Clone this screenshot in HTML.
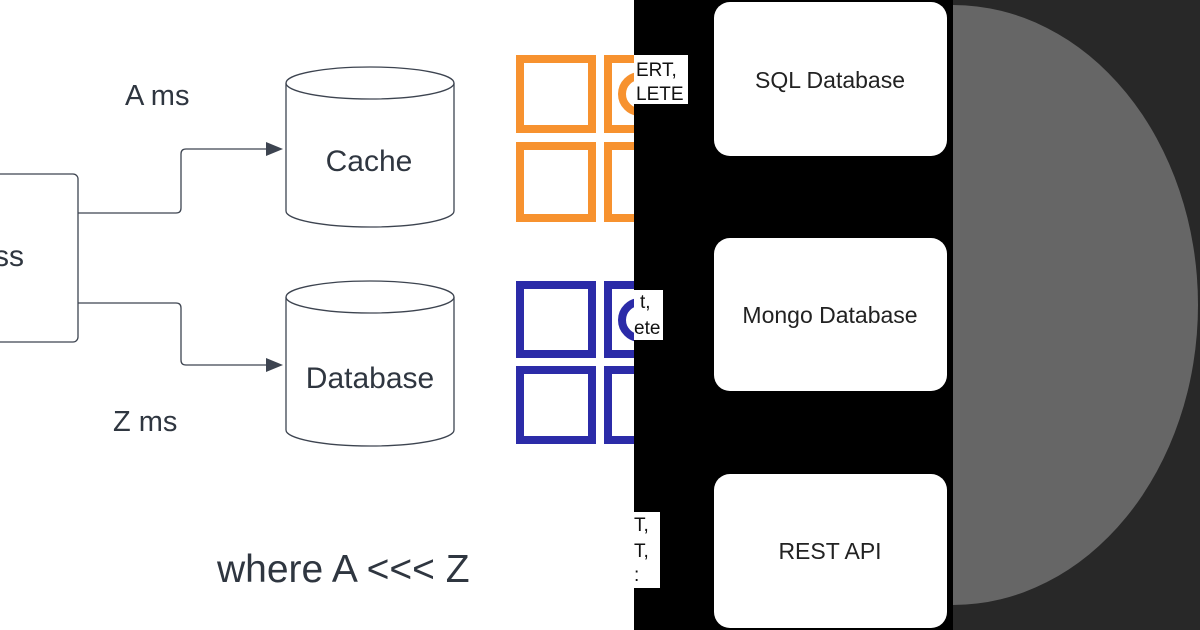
<!DOCTYPE html>
<html><head><meta charset="utf-8"><style>
html,body{margin:0;padding:0;width:1200px;height:630px;overflow:hidden;background:#fff}
svg{display:block}
</style></head><body>
<svg width="1200" height="630" viewBox="0 0 1200 630" xmlns="http://www.w3.org/2000/svg">
<defs><clipPath id="rp"><rect x="953" y="0" width="247" height="630"/></clipPath></defs>
<rect x="0" y="0" width="634" height="630" fill="#fff"/>
<rect x="-20" y="174" width="98" height="168" rx="5" fill="none" stroke="#3d4450" stroke-width="1.3"/>
<text x="-6" y="266" font-family="Liberation Sans, sans-serif" font-size="30" fill="#2f3640">ss</text>
<path d="M78 213 H176 Q181 213 181 208 V154 Q181 149 186 149 H266" fill="none" stroke="#3d4450" stroke-width="1.3"/>
<polygon points="266,142 283,149 266,156" fill="#3d4450"/>
<path d="M78 303 H176 Q181 303 181 308 V360 Q181 365 186 365 H266" fill="none" stroke="#3d4450" stroke-width="1.3"/>
<polygon points="266,358 283,365 266,372" fill="#3d4450"/>
<g fill="#fff" stroke="#3d4450" stroke-width="1.3">
<path d="M286 83 V211 A84 16 0 0 0 454 211 V83"/>
<ellipse cx="370" cy="83" rx="84" ry="16"/>
<path d="M286 297 V430 A84 16 0 0 0 454 430 V297"/>
<ellipse cx="370" cy="297" rx="84" ry="16"/>
</g>
<g font-family="Liberation Sans, sans-serif" fill="#2f3640">
<text x="369" y="171" font-size="30" text-anchor="middle">Cache</text>
<text x="370" y="388" font-size="30" text-anchor="middle">Database</text>
<text x="125" y="105" font-size="29">A ms</text>
<text x="113" y="431" font-size="29">Z ms</text>
<text x="217" y="582" font-size="39">where A &lt;&lt;&lt; Z</text>
</g>
<g fill="none" stroke="#f7922f" stroke-width="8">
<rect x="520" y="59" width="72" height="70"/>
<rect x="520" y="146" width="72" height="72"/>
<rect x="608" y="59" width="72" height="70"/>
<rect x="608" y="146" width="72" height="72"/>
<circle cx="640" cy="94" r="18"/>
</g>
<g fill="none" stroke="#2b2ba8" stroke-width="8">
<rect x="520" y="285" width="72" height="69"/>
<rect x="520" y="370" width="72" height="70"/>
<rect x="608" y="285" width="72" height="69"/>
<rect x="608" y="370" width="72" height="70"/>
<circle cx="640" cy="320" r="18"/>
</g>
<rect x="634" y="0" width="319" height="630" fill="#000"/>
<rect x="634" y="55" width="54" height="49" fill="#fff"/>
<rect x="634" y="290" width="29" height="50" fill="#fff"/>
<rect x="634" y="512" width="26" height="76" fill="#fff"/>
<g font-family="Liberation Sans, sans-serif" font-size="19" fill="#111">
<text x="636" y="76">ERT,</text>
<text x="636" y="100">LETE</text>
<text x="640" y="308">t,</text>
<text x="634" y="334">ete</text>
<text x="634" y="531">T,</text>
<text x="634" y="557">T,</text>
<text x="634" y="581">:</text>
</g>
<g fill="#fff">
<rect x="714" y="2" width="233" height="154" rx="16"/>
<rect x="714" y="238" width="233" height="153" rx="16"/>
<rect x="714" y="474" width="233" height="154" rx="16"/>
</g>
<g font-family="Liberation Sans, sans-serif" font-size="23" fill="#222" text-anchor="middle">
<text x="830" y="88">SQL Database</text>
<text x="830" y="323">Mongo Database</text>
<text x="830" y="559">REST API</text>
</g>
<rect x="953" y="0" width="247" height="630" fill="#282828"/>
<ellipse cx="953" cy="305" rx="245" ry="300" fill="#666" clip-path="url(#rp)"/>
</svg>
</body></html>
